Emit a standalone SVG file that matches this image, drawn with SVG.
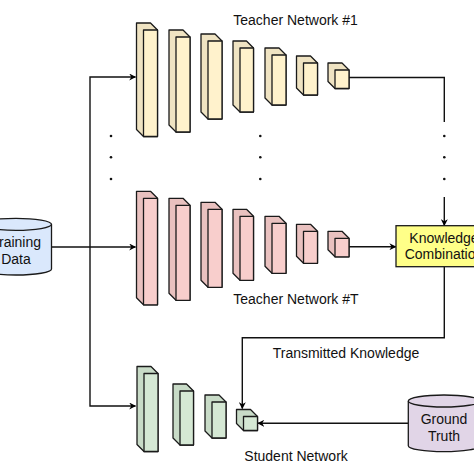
<svg xmlns="http://www.w3.org/2000/svg" width="474" height="474" viewBox="0 0 474 474">
<defs>
<marker id="arr" viewBox="0 0 10 10" refX="9" refY="5" markerWidth="7" markerHeight="7" markerUnits="userSpaceOnUse" orient="auto">
<path d="M0 0 L10 5 L0 10 L3 5 Z" fill="#000"/>
</marker>
</defs>
<style>
text{font-family:"Liberation Sans",Arial,sans-serif;font-size:14px;fill:#111}
.ln{fill:none;stroke:#111;stroke-width:1.4}
.cb{stroke:#1a1a1a;stroke-width:1.3;stroke-linejoin:round}
.y .s{fill:#efe3c2}.y .f{fill:#fff2cc}
.p .s{fill:#e9c1bf}.p .f{fill:#f8cecc}
.g .s{fill:#c8dbc7}.g .f{fill:#d5e8d4}
.dot{fill:#111}
</style>
<rect width="474" height="474" fill="#fff"/>

<g id="connectors">
<path class="ln" d="M51.7 247 H135.5" marker-end="url(#arr)"/>
<path class="ln" d="M90 247 V77 H135.5" marker-end="url(#arr)"/>
<path class="ln" d="M90 247 V406 H135.5" marker-end="url(#arr)"/>
<path class="ln" d="M349 77.5 H444.3 V122"/>
<path class="ln" d="M444.3 197 V225.5" marker-end="url(#arr)"/>
<path class="ln" d="M349 246.7 H395.7" marker-end="url(#arr)"/>
<path class="ln" d="M444.3 266.7 V337.7 H242.3 V408.5" marker-end="url(#arr)"/>
<path class="ln" d="M408.3 423.3 H258" marker-end="url(#arr)"/>
</g>

<g id="dots">
<circle class="dot" cx="111" cy="136" r="1.3"/><circle class="dot" cx="111" cy="157.3" r="1.3"/><circle class="dot" cx="111" cy="179" r="1.3"/>
<circle class="dot" cx="260.3" cy="136" r="1.3"/><circle class="dot" cx="260.3" cy="157.3" r="1.3"/><circle class="dot" cx="260.3" cy="179" r="1.3"/>
<circle class="dot" cx="444.3" cy="136" r="1.3"/><circle class="dot" cx="444.3" cy="157.3" r="1.3"/><circle class="dot" cx="444.3" cy="179" r="1.3"/>
</g>

<g id="training-data">
<path d="M-19.5 224.3 A35.5 6 0 0 1 51.5 224.3 V269 A35.5 6 0 0 1 -19.5 269 Z" fill="#dae8fc" stroke="#1a1a1a" stroke-width="1.3"/>
<path d="M-19.5 224.3 A35.5 6 0 0 0 51.5 224.3" fill="none" stroke="#1a1a1a" stroke-width="1.3"/>
<text x="16" y="247.3" text-anchor="middle">Training</text>
<text x="16" y="264.3" text-anchor="middle">Data</text>
</g>

<g id="teacher-1" class="y">
<g class="cb"><path class="s" d="M136.5 23 H150.5 L157.5 30 V136.5 H143.5 L136.5 129.5 Z"/><rect class="f" x="143.5" y="30" width="14" height="106.5"/></g>
<g class="cb"><path class="s" d="M169 30 H183 L190 37 V132 H176 L169 125 Z"/><rect class="f" x="176" y="37" width="14" height="95"/></g>
<g class="cb"><path class="s" d="M201 34 H215 L222 41 V119 H208 L201 112 Z"/><rect class="f" x="208" y="41" width="14" height="78"/></g>
<g class="cb"><path class="s" d="M233 41 H246.5 L253.5 48 V112 H240 L233 105 Z"/><rect class="f" x="240" y="48" width="13.5" height="64"/></g>
<g class="cb"><path class="s" d="M265 48 H279 L286 55 V105 H272 L265 98 Z"/><rect class="f" x="272" y="55" width="14" height="50"/></g>
<g class="cb"><path class="s" d="M296.5 56 H310.5 L317.5 63 V95 H303.5 L296.5 88 Z"/><rect class="f" x="303.5" y="63" width="14" height="32"/></g>
<g class="cb"><path class="s" d="M328 63 H342 L349 70 V88.5 H335 L328 81.5 Z"/><rect class="f" x="335" y="70" width="14" height="18.5"/></g>
<text x="233.3" y="24.5">Teacher Network #1</text>
</g>

<g id="teacher-T" class="p" transform="translate(0,168.3)">
<g class="cb"><path class="s" d="M136.5 23 H150.5 L157.5 30 V136.5 H143.5 L136.5 129.5 Z"/><rect class="f" x="143.5" y="30" width="14" height="106.5"/></g>
<g class="cb"><path class="s" d="M169 30 H183 L190 37 V132 H176 L169 125 Z"/><rect class="f" x="176" y="37" width="14" height="95"/></g>
<g class="cb"><path class="s" d="M201 34 H215 L222 41 V119 H208 L201 112 Z"/><rect class="f" x="208" y="41" width="14" height="78"/></g>
<g class="cb"><path class="s" d="M233 41 H246.5 L253.5 48 V112 H240 L233 105 Z"/><rect class="f" x="240" y="48" width="13.5" height="64"/></g>
<g class="cb"><path class="s" d="M265 48 H279 L286 55 V105 H272 L265 98 Z"/><rect class="f" x="272" y="55" width="14" height="50"/></g>
<g class="cb"><path class="s" d="M296.5 56 H310.5 L317.5 63 V95 H303.5 L296.5 88 Z"/><rect class="f" x="303.5" y="63" width="14" height="32"/></g>
<g class="cb"><path class="s" d="M328 63 H342 L349 70 V88.5 H335 L328 81.5 Z"/><rect class="f" x="335" y="70" width="14" height="18.5"/></g>
<text x="233.3" y="135.5">Teacher Network #T</text>
</g>

<g id="knowledge-combination">
<rect x="396" y="225.7" width="96" height="41" fill="#ffff88" stroke="#1a1a1a" stroke-width="1.3"/>
<text x="444" y="243.3" text-anchor="middle">Knowledge</text>
<text x="444" y="259" text-anchor="middle">Combination</text>
</g>

<g id="transmitted-label"><text x="272.7" y="357.5">Transmitted Knowledge</text></g>

<g id="student" class="g">
<g class="cb"><path class="s" d="M137 366.5 H151 L158 373.5 V451.5 H144 L137 444.5 Z"/><rect class="f" x="144" y="373.5" width="14" height="78"/></g>
<g class="cb"><path class="s" d="M173 384 H186.5 L193.5 391 V445 H180 L173 438 Z"/><rect class="f" x="180" y="391" width="13.5" height="54"/></g>
<g class="cb"><path class="s" d="M205 395 H219 L226 402 V438 H212 L205 431 Z"/><rect class="f" x="212" y="402" width="14" height="36"/></g>
<g class="cb"><path class="s" d="M236.5 409.5 H250.5 L257.5 416.5 V430.5 H243.5 L236.5 423.5 Z"/><rect class="f" x="243.5" y="416.5" width="14" height="14"/></g>
<text x="244.3" y="461">Student Network</text>
</g>

<g id="ground-truth">
<path d="M408.3 401 A35.7 6 0 0 1 479.7 401 V445.7 A35.7 6 0 0 1 408.3 445.7 Z" fill="#e1d5e7" stroke="#1a1a1a" stroke-width="1.3"/>
<path d="M408.3 401 A35.7 6 0 0 0 479.7 401" fill="none" stroke="#1a1a1a" stroke-width="1.3"/>
<text x="444" y="424" text-anchor="middle">Ground</text>
<text x="444" y="440.7" text-anchor="middle">Truth</text>
</g>
</svg>
